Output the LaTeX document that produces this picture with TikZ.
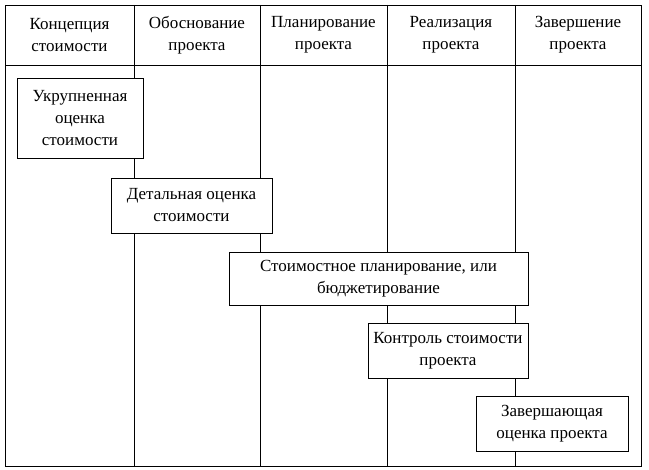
\documentclass[tikz,border=0pt]{standalone}
\usepackage{fontspec}
\setmainfont{Liberation Serif}
\usetikzlibrary{positioning}
\begin{document}
\begin{tikzpicture}
[
x=1pt,y=-1pt,
every node/.style={font=\fontsize{17}{22}\selectfont,align=center},
stagebox/.style 2 args={draw,fill=white,minimum width=#1,minimum height=#2,inner sep=2pt},
]
\useasboundingbox (0,0) rectangle (649,470);
%Table frame and columns
\draw (5,5) rectangle (641,466);
\draw (5,65) -- (641,65);
\foreach \x in {134,260,387,515}
  \draw (\x,5) -- (\x,466);
%Column heads
\node (h1) at (69.5,35) {Концепция\\стоимости};
\node (h2) at (197,35) {Обоснование\\проекта};
\node (h3) at (323.5,35) {Планирование\\проекта};
\node (h4) at (451,35) {Реализация\\проекта};
\node (h5) at (578,35) {Завершение\\проекта};
%Place the stages
\node[stagebox={126}{80}] (s1) at (80,118) {Укрупненная\\оценка\\стоимости};
\node[stagebox={161}{55}] (s2) at (191.5,205.5) {Детальная оценка\\стоимости};
\node[stagebox={299}{53}] (s3) at (378.5,278.5) {Стоимостное планирование, или\\бюджетирование};
\node[stagebox={160}{55}] (s4) at (448,350.5) {Контроль стоимости\\проекта};
\node[stagebox={152}{55}] (s5) at (552,423.5) {Завершающая\\оценка проекта};
\end{tikzpicture}
\end{document}
